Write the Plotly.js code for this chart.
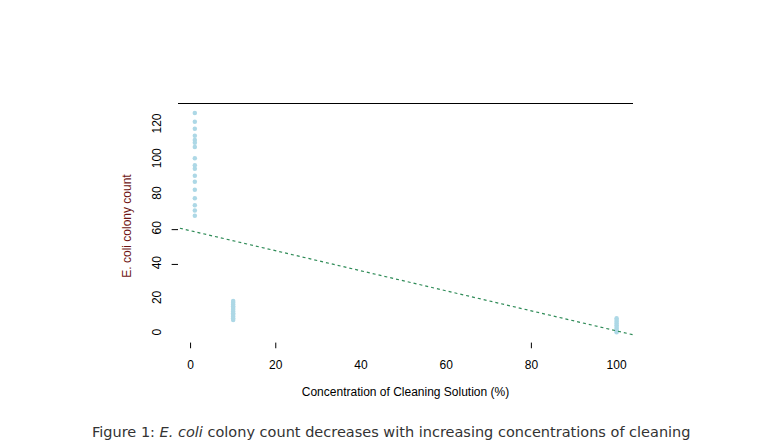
<!DOCTYPE html>
<html>
<head>
<meta charset="utf-8">
<script src="https://cdn.plot.ly/plotly-3.0.1.min.js"></script>
<style>
html,body{margin:0;padding:0;background:#fff;}
#chart{width:784px;height:441px;}
</style>
</head>
<body>
<div id="chart"></div>
<script>
// Concentration of cleaning solution (%) and E. coli colony counts
const conc1 = [1,1,1,1,1,1,1,1,1,1,1,1,1,1,1,1,1];
const count1 = [127,122,118,114,111.5,110,107.5,101,97,95,91,87.5,83,78,74,71,68];
const conc10 = [10,10,10,10,10,10,10,10,10,10,10,10];
const count10 = [8,9,10,11,12,13,14,15,16,17,18,19];
const conc100 = [100,100,100,100,100,100,100,100,100];
const count100 = [1,2,3,4,5,6,7,8,9];
// fitted regression line end points
const fitX = [-2.5, 103.8];
const fitY = [60.8, -0.4];
// tick labels and the few tick marks drawn
const xTickVals = [0,20,40,60,80,100];
const yTickVals = [0,20,40,60,80,100,120];
const xTickMarks = [0,20,80];
const yTickMarks = [40,60];

const ptColor = '#add8e6';
const traces = [
  {x: conc1.concat(conc10, conc100), y: count1.concat(count10, count100),
   type:'scatter', mode:'markers',
   marker:{color:ptColor, size:4.5}, hoverinfo:'skip'},
  {x: fitX, y: fitY, type:'scatter', mode:'lines',
   line:{color:'#2e8b57', width:1.2, dash:'3px,3px'}, hoverinfo:'skip'}
];

const shapes = [
  {type:'line', xref:'paper', yref:'paper', x0:0, x1:1, y0:1 - 0.5/246, y1:1 - 0.5/246,
   line:{color:'#000', width:1}}
];
xTickMarks.forEach(v => shapes.push({type:'line', xref:'x', yref:'paper',
  x0:v, x1:v, y0:0.026, y1:0.003, line:{color:'#000', width:1}}));
yTickMarks.forEach(v => shapes.push({type:'line', xref:'paper', yref:'y',
  x0:-0.014, x1:0, y0:v, y1:v, line:{color:'#000', width:1}}));

const layout = {
  width:784, height:441,
  margin:{l:178, r:151, t:103, b:92, pad:0},
  paper_bgcolor:'#fff', plot_bgcolor:'#fff',
  showlegend:false,
  font:{family:'Liberation Sans, Arial, sans-serif', size:12, color:'#000'},
  xaxis:{range:[-2.95,103.85], showgrid:false, zeroline:false, showline:false,
    tickvals:xTickVals, ticktext:xTickVals.map(String), ticks:'',
    ticklabelstandoff:7,
    tickfont:{size:12},
    title:{text:'Concentration of Cleaning Solution (%)', font:{size:12}, standoff:16}},
  yaxis:{range:[-8.62,132.8], showgrid:false, zeroline:false, showline:false,
    tickvals:yTickVals, ticktext:yTickVals.map(String), ticks:'',
    tickangle:-90, ticklabelstandoff:14,
    tickfont:{size:12},
    title:{text:'E. coli colony count', font:{size:12, color:'#6e1414'}, standoff:15}},
  shapes:shapes,
  annotations:[
    {xref:'paper', yref:'paper', x:(391-178)/455, y:(349-432)/246,
     xanchor:'center', yanchor:'middle', showarrow:false,
     text:'Figure 1: <i>E. coli</i> colony count decreases with increasing concentrations of cleaning',
     font:{family:'DejaVu Sans, Verdana, sans-serif', size:14.5, color:'#333'}}
  ]
};

Plotly.newPlot('chart', traces, layout, {displayModeBar:false, staticPlot:true});
</script>
</body>
</html>
